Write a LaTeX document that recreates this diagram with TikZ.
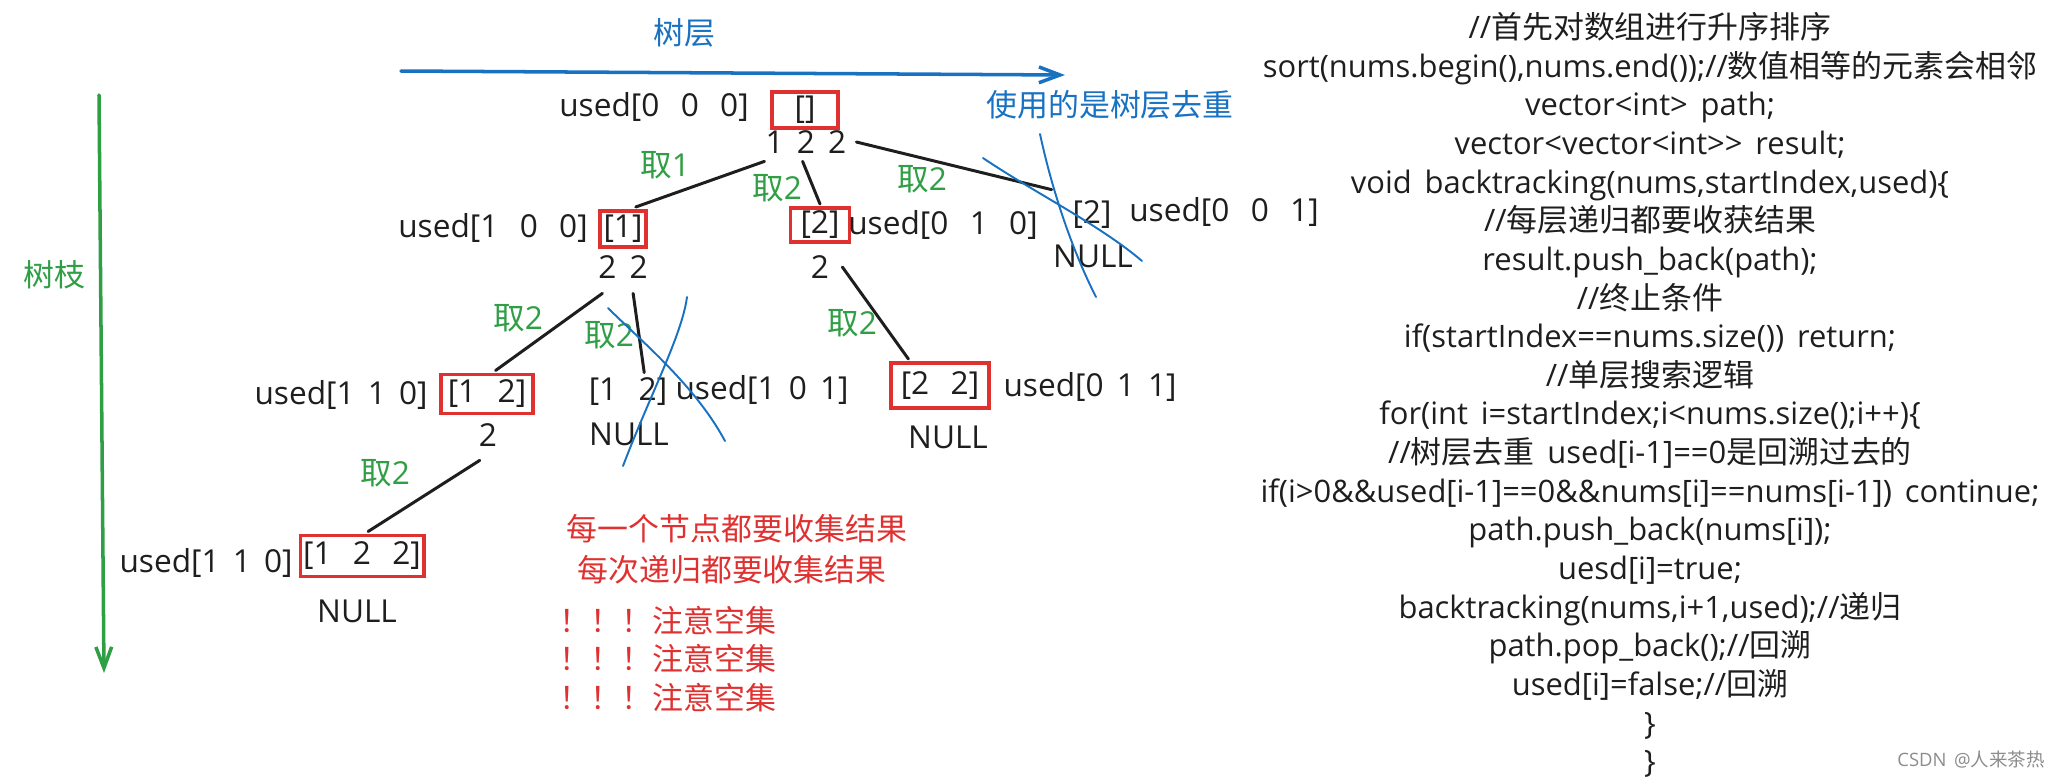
\documentclass[tikz,border=0pt]{standalone}
\usepackage{fontspec}
\usetikzlibrary{arrows.meta}
\setmainfont[WordSpace=1.6]{Open Sans}
\newfontfamily\widefont[WordSpace=2.6]{Open Sans}
\newfontfamily\zhfont{Noto Sans CJK SC}
\newcommand{\zh}[1]{{\zhfont #1}}
\definecolor{penblue}{HTML}{1971C2}
\definecolor{pengreen}{HTML}{2F9E44}
\definecolor{penred}{HTML}{E03131}
\definecolor{penblack}{HTML}{1E1E1E}
\tikzset{
  hand/.style={inner sep=0, text=penblack, font=\fontsize{18}{22}\selectfont},
  handwide/.style={inner sep=0, text=penblack, font=\widefont\fontsize{18}{22}\selectfont},
  redbox/.style={handwide, draw=penred, line width=2pt, outer sep=.08cm},
  takelabel/.style={inner sep=0, text=pengreen, font=\fontsize{18}{22}\selectfont},
  note/.style={inner sep=0, font=\zhfont\fontsize{17.6}{22}\selectfont},
  edge/.style={penblack, line width=1.7pt, line cap=round},
  strike/.style={penblue, line width=1.1pt, line cap=round},
  sweep/.style={line width=2pt, line cap=round, -{Straight Barb[length=12pt,width=9pt,line width=2pt]}}
}
\begin{document}
\begin{tikzpicture}[x=.02cm,y=-.02cm]
\useasboundingbox (0,0) rectangle (2055,778);
% directions
\coordinate (layerstart) at (401,71);
\coordinate (layerend) at (1065,75);
\coordinate (branchstart) at (99,95);
\coordinate (branchend) at (104,673);
\draw [sweep, penblue] (layerstart) -- (layerend);
\draw [sweep, pengreen] (branchstart) -- (branchend);
\node [note, text=penblue] (layertitle) at (684,33) {树层};
\node [note, text=penblue] (layernote) at (1110,105) {使用的是树层去重};
\node [note, text=pengreen] (branchtitle) at (54,275) {树枝};
% root
\node [handwide] (used0) at (654,107) {used[0 0 0]};
\node [redbox, minimum width=1.32cm, minimum height=.72cm] (box0) at (805,110) {[]};
\node [hand, minimum width=2cm, minimum height=.76cm] (nums0) at (806,142) {1 2 2};
% second row
\node [handwide] (used1) at (493,228) {used[1 0 0]};
\node [redbox, minimum width=.92cm, minimum height=.72cm] (box1) at (623,229) {[1]};
\node [hand, minimum width=1.6cm, minimum height=1.04cm] (nums1) at (623,267) {2 2};
\node [redbox, minimum width=1.18cm, minimum height=.68cm] (box2) at (820,225) {[2]};
\node [handwide] (used2) at (943,225) {used[0 1 0]};
\node [hand, minimum width=.88cm, minimum height=.76cm] (nums2) at (820,267) {2};
\node [hand, minimum width=1.6cm, minimum height=1cm] (cut2) at (1092,215) {[2]};
\node [handwide] (used3) at (1224,212) {used[0 0 1]};
\node [hand] (nullcut2) at (1093,256) {NULL};
% third row
\node [hand] (used4) at (341,395) {used[1 1 0]};
\node [redbox, minimum width=1.84cm, minimum height=.78cm] (box12) at (487,394) {[1 2]};
\node [hand, minimum width=.8cm, minimum height=1cm] (nums3) at (488,435) {2};
\node [handwide, minimum height=.76cm] (cut12) at (628,392) {[1 2]};
\node [hand] (used5) at (762,390) {used[1 0 1]};
\node [hand] (nullcut12) at (629,434) {NULL};
\node [redbox, minimum width=1.96cm, minimum height=.9cm] (box22) at (940,385.5) {[2 2]};
\node [hand] (used6) at (1090,387) {used[0 1 1]};
\node [hand] (null22) at (948,437) {NULL};
% last row
\node [hand] (used7) at (206,563) {used[1 1 0]};
\node [redbox, minimum width=2.47cm, minimum height=.82cm] (box122) at (362,556) {[1 2 2]};
\node [hand] (null122) at (357,611) {NULL};
% edges
\draw [edge] (nums0.-155) -- (box1.60);
\draw [edge] (nums0.-100) -- (box2.north);
\draw [edge] (nums0.east) -- (cut2.north west);
\draw [edge] (nums1.-128) -- (box12.70);
\draw [edge] (nums1.-69) -- (cut12.50);
\draw [edge] (nums2.east) -- (box22.140);
\draw [edge] (nums3.-108) -- (box122.76);
% taken values
\node [takelabel] (take1) at (665,165) {\zh{取}1};
\node [takelabel] (take2) at (777,188) {\zh{取}2};
\node [takelabel] (take3) at (922,179) {\zh{取}2};
\node [takelabel] (take4) at (518,318) {\zh{取}2};
\node [takelabel] (take5) at (609,335) {\zh{取}2};
\node [takelabel] (take6) at (852,323) {\zh{取}2};
\node [takelabel] (take7) at (385,473) {\zh{取}2};
% strikes
\coordinate (strikea) at (1040,134);
\coordinate (strikeb) at (1096,297);
\coordinate (strikec) at (983,158);
\coordinate (striked) at (1142,261);
\coordinate (strikee) at (608,308);
\coordinate (strikef) at (725,441);
\coordinate (strikeg) at (687,297);
\coordinate (strikeh) at (623,466);
\draw [strike] (strikea) .. controls (1052,190) and (1072,250) .. (strikeb);
\draw [strike] (strikec) .. controls (1030,190) and (1100,225) .. (striked);
\draw [strike] (strikee) .. controls (640,340) and (695,385) .. (strikef);
\draw [strike] (strikeg) .. controls (682,335) and (650,395) .. (strikeh);
% notes
\node [note, text=penred] (note1) at (737,529) {每一个节点都要收集结果};
\node [note, text=penred] (note2) at (732,570) {每次递归都要收集结果};
\node [note, text=penred] (note3) at (668,621) {！！！注意空集};
\node [note, text=penred] (note4) at (668,659) {！！！注意空集};
\node [note, text=penred] (note5) at (668,698) {！！！注意空集};
% code
\node [inner sep=0, align=center, text=penblack, font=\fontsize{17.6}{22}\selectfont] (code) at (1650,395) {
//\zh{首先对数组进行升序排序}\\
sort(nums.begin(),nums.end());//\zh{数值相等的元素会相邻}\\
vector<int> path;\\
vector<vector<int>{}> result;\\
void backtracking(nums,startIndex,used)\{\\
//\zh{每层递归都要收获结果}\\
result.push\_back(path);\\
//\zh{终止条件}\\
if(startIndex==nums.size()) return;\\
//\zh{单层搜索逻辑}\\
for(int i=startIndex;i<nums.size();i++)\{\\
//\zh{树层去重} used[i-1]==0\zh{是回溯过去的}\\
if(i>0\&\&used[i-1]==0\&\&nums[i]==nums[i-1]) continue;\\
path.push\_back(nums[i]);\\
uesd[i]=true;\\
backtracking(nums,i+1,used);//\zh{递归}\\
path.pop\_back();//\zh{回溯}\\
used[i]=false;//\zh{回溯}\\
\}\\
\}};
\node [inner sep=0, text=black!45, font=\fontsize{10.5}{12}\selectfont] (mark) at (1971,760) {CSDN @\zh{人来茶热}};
\end{tikzpicture}
\end{document}
